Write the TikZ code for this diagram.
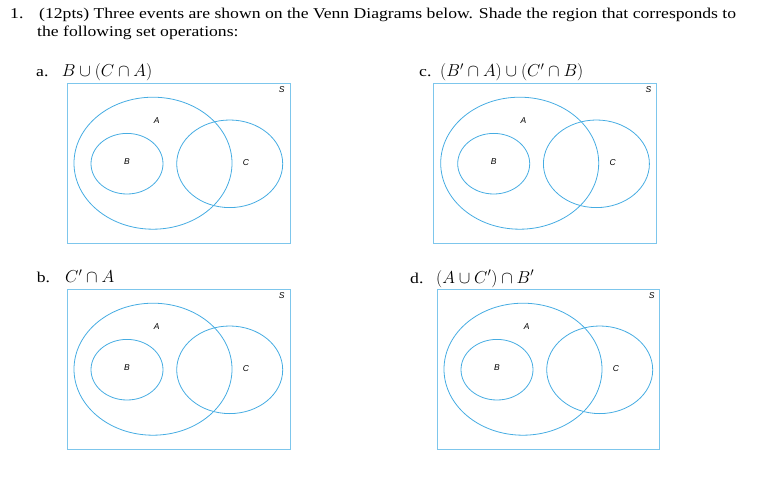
\documentclass[tikz,border=0pt]{standalone}
\usepackage{fontspec}
\setmainfont[FakeStretch=1.176]{Liberation Serif}
\newfontfamily\vennfont{Liberation Sans}
\usetikzlibrary{shapes,arrows}

\definecolor{vennline}{RGB}{70,172,226}
\definecolor{boxline}{RGB}{125,198,236}

\begin{document}
\begin{tikzpicture}[x=1pt,y=-1pt]
	\tikzstyle{every node}=[inner sep=0pt]
	\tikzstyle{task}=[anchor=base west,font=\fontsize{15}{18}\selectfont]
	\tikzstyle{setop}=[anchor=base west,font=\fontsize{16.5}{18}\selectfont]
	\tikzstyle{setlbl}=[font=\vennfont\itshape\fontsize{8.5}{9}\selectfont]
	\tikzstyle{venn}=[draw=vennline,line width=0.8pt]
	\tikzstyle{frame}=[draw=boxline,line width=0.9pt]

	%% page
	\useasboundingbox (0,0) rectangle (757,489);

	\node [task]  (num)  at (10,19)  {1.};
	\node [task]  (head1)  at (39,19)  {(12pts) Three events are shown on the Venn Diagrams below. Shade the region that corresponds to};
	\node [task]  (head2)  at (37,36.7)  {the following set operations:};

	\node [task]  (itema)  at (36,76.7)  {a.};
	\node [setop]  (opa)  at (61.7,76.7)  {$B\cup(C\cap A)$};
	\node [task]  (itemc)  at (419,76.7)  {c.};
	\node [setop]  (opc)  at (440,76.7)  {$(B'\cap A)\cup(C'\cap B)$};
	\node [task]  (itemb)  at (36.7,282.7)  {b.};
	\node [setop]  (opb)  at (65,282.7)  {$C'\cap A$};
	\node [task]  (itemd)  at (410,283)  {d.};
	\node [setop]  (opd)  at (436,283)  {$(A\cup C')\cap B'$};

	%% diagram a
	\draw [frame ,]  (67.3,83.3) rectangle (290.0,243.3);
	\draw [venn ,]  (153.0,163.2) ellipse (79.0 and 66.0);
	\draw [venn ,]  (127.0,163.7) ellipse (36.0 and 30.3);
	\draw [venn ,]  (229.7,163.8) ellipse (53.0 and 43.8);
	\node [setlbl]  (sa)  at (281.7,90.0)  {S};
	\node [setlbl]  (aa)  at (156.7,121.0)  {A};
	\node [setlbl]  (ba)  at (127.0,161.7)  {B};
	\node [setlbl]  (ca)  at (246.0,162.7)  {C};

	%% diagram c
	\draw [frame ,]  (433.3,83.3) rectangle (656.7,243.3);
	\draw [venn ,]  (519.7,163.2) ellipse (79.0 and 66.0);
	\draw [venn ,]  (493.7,163.7) ellipse (36.0 and 30.3);
	\draw [venn ,]  (596.4,163.8) ellipse (53.0 and 43.8);
	\node [setlbl]  (sc)  at (648.4,90.0)  {S};
	\node [setlbl]  (ac)  at (523.4,121.0)  {A};
	\node [setlbl]  (bc)  at (493.7,161.7)  {B};
	\node [setlbl]  (cc)  at (612.7,162.7)  {C};

	%% diagram b
	\draw [frame ,]  (67.3,289.3) rectangle (290.0,449.3);
	\draw [venn ,]  (153.0,369.2) ellipse (79.0 and 66.0);
	\draw [venn ,]  (127.0,369.7) ellipse (36.0 and 30.3);
	\draw [venn ,]  (229.7,369.8) ellipse (53.0 and 43.8);
	\node [setlbl]  (sb)  at (281.7,296.0)  {S};
	\node [setlbl]  (ab)  at (156.7,327.0)  {A};
	\node [setlbl]  (bb)  at (127.0,367.7)  {B};
	\node [setlbl]  (cb)  at (246.0,368.7)  {C};

	%% diagram d
	\draw [frame ,]  (437.3,289.3) rectangle (659.3,449.3);
	\draw [venn ,]  (523.0,369.2) ellipse (79.0 and 66.0);
	\draw [venn ,]  (497.0,369.7) ellipse (36.0 and 30.3);
	\draw [venn ,]  (599.7,369.8) ellipse (53.0 and 43.8);
	\node [setlbl]  (sd)  at (651.7,296.0)  {S};
	\node [setlbl]  (ad)  at (526.7,327.0)  {A};
	\node [setlbl]  (bd)  at (497.0,367.7)  {B};
	\node [setlbl]  (cd)  at (616.0,368.7)  {C};

\end{tikzpicture}
\end{document}
